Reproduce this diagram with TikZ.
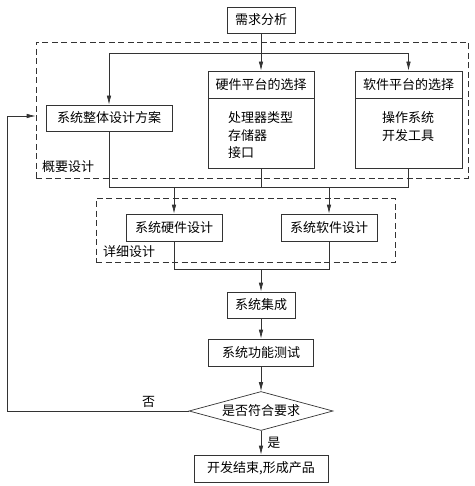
\documentclass[tikz,border=0pt]{standalone}
\usepackage{fontspec}
\setmainfont{Noto Sans CJK SC}
\usetikzlibrary{shapes, arrows.meta, calc, positioning}

\tikzset{
  box/.style={draw, rectangle, inner sep=2pt, minimum height=26pt},
  group/.style={draw, dash pattern=on 6pt off 3.5pt, rectangle, inner sep=0pt},
  list/.style={align=left, inner sep=0pt},
  tag/.style={inner sep=0pt},
  check/.style={draw, diamond, aspect=3.7, inner sep=0pt, minimum width=144pt, minimum height=39pt},
}

\begin{document}
\begin{tikzpicture}[x=1pt, y=-1pt, >={Latex[length=9pt,width=4.5pt]},
  font=\fontsize{13}{17.5}\selectfont, line width=0.7pt, draw=black!80]
  \useasboundingbox (0,0) rectangle (474,486);

  % rough design
  \node[box, minimum width=68pt] (req) at (261,20) {需求分析};
  \node[group, minimum width=432pt, minimum height=136pt] (rough) at (252,110) {};
  \node[tag, anchor=south west] (roughlabel) at ([xshift=6pt, yshift=5pt]rough.south west) {概要设计};
  \node[box, minimum width=126pt] (overall) at (109,118) {系统整体设计方案};

  \node[box, minimum width=106pt, minimum height=27pt] (hw) at (261,84.5) {硬件平台的选择};
  \node[box, minimum width=106pt, minimum height=70pt, below=0pt of hw] (hwbody) {};
  \node[list, anchor=north west] (hwlist) at ([xshift=20pt, yshift=-13pt]hwbody.north west) {处理器类型\\存储器\\接口};

  \node[box, minimum width=107pt, minimum height=27pt] (sw) at (408.5,84.5) {软件平台的选择};
  \node[box, minimum width=107pt, minimum height=70pt, below=0pt of sw] (swbody) {};
  \node[list, anchor=north west] (swlist) at ([xshift=27pt, yshift=-13pt]swbody.north west) {操作系统\\开发工具};

  % detailed design
  \node[group, minimum width=299pt, minimum height=64pt] (detail) at (245.5,230) {};
  \node[tag, anchor=south west] (detaillabel) at ([xshift=7pt, yshift=4pt]detail.south west) {详细设计};
  \node[box, minimum width=96pt, minimum height=27pt] (hwd) at (174,227.5) {系统硬件设计};
  \node[box, minimum width=96pt, minimum height=27pt] (swd) at (329,227.5) {系统软件设计};

  \node[box, minimum width=68pt] (integ) at (261,305) {系统集成};
  \node[box, minimum width=105pt, minimum height=27pt] (test) at (261,352.5) {系统功能测试};
  \node[check] (check) at (261,411) {是否符合要求};
  \node[box, minimum width=134pt, minimum height=27pt] (final) at (261,468.5) {开发结束,形成产品};

  \coordinate (split) at (261,53);
  \coordinate (merge) at (261,187);
  \coordinate (join) at (261,269);
  \coordinate (loop) at (7,116);

  \draw[->] (req.south) -- (hw.north);
  \draw[->] (split) -| (overall.north);
  \draw[->] (split) -| (sw.north);

  \draw (overall.south) |- (merge);
  \draw (swbody.south) |- (merge);
  \draw (hwbody.south) -- (merge);
  \draw[->] (merge -| hwd) -- (hwd.north);
  \draw[->] (merge -| swd) -- (swd.north);

  \draw (hwd.south) |- (join);
  \draw (swd.south) |- (join);
  \draw[->] (join) -- (integ.north);
  \draw[->] (integ) -- (test);
  \draw[->] (test) -- (check);
  \draw[->] (check) -- node[right, inner sep=6pt] (yes) {是} (final);
  \draw[->] (check.west) -| node[above, pos=0.11, inner sep=3pt] (no) {否} (loop) -- (rough.west |- loop);
\end{tikzpicture}
\end{document}
